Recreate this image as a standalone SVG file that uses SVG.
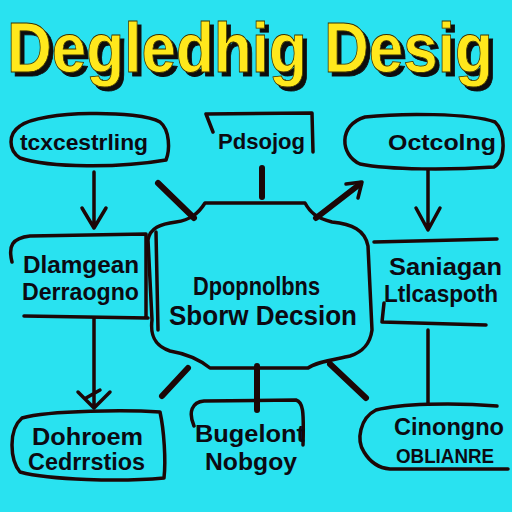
<svg xmlns="http://www.w3.org/2000/svg" width="512" height="512" viewBox="0 0 512 512">
<defs>
<filter id="sh" filterUnits="userSpaceOnUse" x="0" y="0" width="512" height="110">
<feOffset in="SourceAlpha" dx="4" dy="4" result="o"/>
<feFlood flood-color="#111"/>
<feComposite in2="o" operator="in" result="s"/>
<feMerge><feMergeNode in="s"/><feMergeNode in="SourceGraphic"/></feMerge>
</filter>
</defs>
<style>
.ln{fill:none;stroke:#1c0707;stroke-width:3.5;stroke-linecap:round;stroke-linejoin:round}
.th{fill:none;stroke:#1c0707;stroke-width:6;stroke-linecap:round}
.t{font-family:"Liberation Sans",Arial,sans-serif;font-weight:bold;fill:#0c0a12;text-anchor:start}
.title{font-family:"Liberation Sans",Arial,sans-serif;font-weight:bold;font-size:70px}
</style>
<rect width="512" height="512" fill="#29e2f0"/>
<g id="title">
<text class="title" x="7" y="72" fill="#ffe81c" stroke="#3a3000" stroke-width="0.8" textLength="486" lengthAdjust="spacingAndGlyphs" filter="url(#sh)">Degledhig Desig</text>
</g>
<g id="connectors">
<path class="ln" d="M94 172 L94 226 M82 208 L94 228 L106 208"/>
<path class="ln" d="M428 170 L428 228 M416 208 L428 230 L440 208"/>
<path class="th" d="M262 168 L262 197"/>
<path class="th" d="M158 183 L194 218"/>
<path class="th" d="M316 218 L360 184"/>
<path class="ln" d="M346 184 L362 182 L358 198"/>
<path class="ln" d="M94 318 L94 404 M78 392 L94 408 L110 392 M86 398 L100 390"/>
<path class="ln" d="M428 330 L428 404"/>
<path class="th" d="M188 368 L162 396"/>
<path class="th" d="M330 364 L366 398"/>
<path class="th" d="M257 366 L257 410"/>
</g>
<g id="n-top-left">
<path class="ln" d="M20 126 C40 110 140 110 160 122 C170 130 170 150 166 160 C120 168 50 168 20 158 C8 150 8 134 20 126 Z"/>
<text class="t" x="20" y="150" font-size="22" textLength="128" lengthAdjust="spacingAndGlyphs">tcxcestrling</text>
</g>
<g id="n-top-center">
<path class="ln" d="M213 132 L206 114 L312 113 L313 152"/>
<text class="t" x="218" y="149" font-size="22" textLength="87" lengthAdjust="spacingAndGlyphs">Pdsojog</text>
</g>
<g id="n-top-right">
<path class="ln" d="M365 117 C400 113 470 113 495 122 C506 132 506 160 494 167 C450 170 390 170 360 164 C340 155 338 125 365 117 Z"/>
<text class="t" x="388" y="150" font-size="22" textLength="108" lengthAdjust="spacingAndGlyphs">Octcolng</text>
</g>
<g id="n-center">
<path class="ln" d="M205 203 L305 203 C310 212 316 218 332 222 C352 224 365 230 368 246 L372 330 C370 345 362 352 350 356 C332 360 316 362 308 368 L210 368 C200 360 188 354 170 351 C155 346 150 336 152 320 L148 240 C150 228 160 224 176 222 C190 220 198 214 205 203 Z"/>
<path class="ln" d="M156 232 L158 330"/>
<text class="t" x="193" y="295" font-size="26" textLength="127" lengthAdjust="spacingAndGlyphs">Dpopnolbns</text>
<text class="t" x="169" y="325" font-size="27" textLength="188" lengthAdjust="spacingAndGlyphs">Sborw Decsion</text>
</g>
<g id="n-mid-left">
<path class="ln" d="M12 262 C8 246 12 238 30 236 L146 234 L146 316 M24 316 L148 318"/>
<text class="t" x="23" y="273" font-size="24" textLength="116" lengthAdjust="spacingAndGlyphs">Dlamgean</text>
<text class="t" x="22" y="300" font-size="24" textLength="117" lengthAdjust="spacingAndGlyphs">Derraogno</text>
</g>
<g id="n-mid-right">
<path class="ln" d="M374 242 L497 239 M384 303 L382 322 L486 325"/>
<text class="t" x="389" y="275" font-size="24" textLength="113" lengthAdjust="spacingAndGlyphs">Saniagan</text>
<text class="t" x="384" y="302" font-size="24" textLength="114" lengthAdjust="spacingAndGlyphs">Ltlcaspoth</text>
</g>
<g id="n-bottom-left">
<path class="ln" d="M22 418 C50 410 130 410 160 412 C164 430 166 460 164 478 C120 482 50 480 20 472 C10 460 8 430 22 418 Z"/>
<text class="t" x="32" y="445" font-size="23" textLength="111" lengthAdjust="spacingAndGlyphs">Dohroem</text>
<text class="t" x="28" y="470" font-size="23" textLength="117" lengthAdjust="spacingAndGlyphs">Cedrrstios</text>
</g>
<g id="n-bottom-center">
<path class="ln" d="M194 426 C188 412 192 402 204 401 L296 400 C303 402 304 410 303 445"/>
<text class="t" x="195" y="442" font-size="23" textLength="110" lengthAdjust="spacingAndGlyphs">Bugelont</text>
<text class="t" x="205" y="470" font-size="23" textLength="92" lengthAdjust="spacingAndGlyphs">Nobgoy</text>
</g>
<g id="n-bottom-right">
<path class="ln" d="M497 406 C450 402 400 404 376 410 C360 418 356 440 364 452 C370 462 378 468 390 469 L508 469"/>
<text class="t" x="394" y="435" font-size="23" textLength="110" lengthAdjust="spacingAndGlyphs">Cinongno</text>
<text class="t" x="396" y="463" font-size="21" textLength="98" lengthAdjust="spacingAndGlyphs">OBLIANRE</text>
</g>
</svg>
